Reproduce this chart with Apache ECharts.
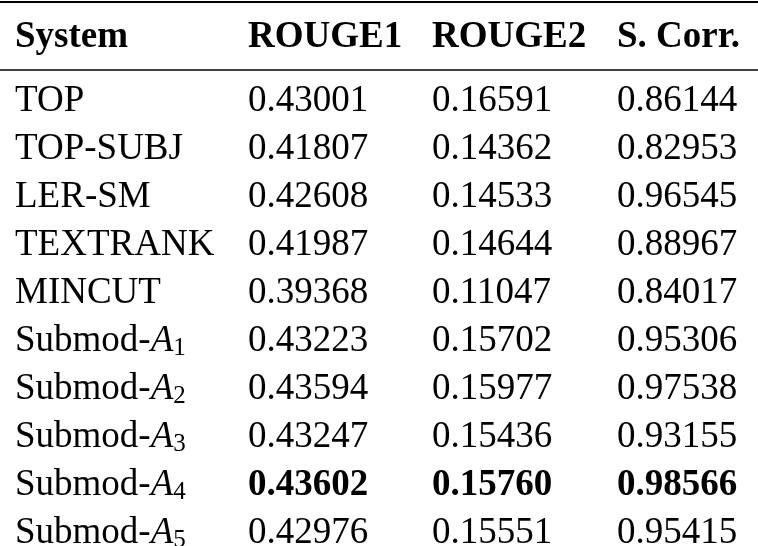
<!DOCTYPE html>
<html><head><meta charset="utf-8">
<script src="https://cdn.jsdelivr.net/npm/echarts@6/dist/echarts.min.js"></script>
<style>html,body{margin:0;padding:0;background:#fff}#c{width:758px;height:546px}</style>
</head><body><div id="c"></div>
<script>
const headers = ['System', 'ROUGE1', 'ROUGE2', 'S. Corr.'];
const systems = ['TOP', 'TOP-SUBJ', 'LER-SM', 'TEXTRANK', 'MINCUT', 'Submod-A1', 'Submod-A2', 'Submod-A3', 'Submod-A4', 'Submod-A5'];
const rouge1 = ['0.43001', '0.41807', '0.42608', '0.41987', '0.39368', '0.43223', '0.43594', '0.43247', '0.43602', '0.42976'];
const rouge2 = ['0.16591', '0.14362', '0.14533', '0.14644', '0.11047', '0.15702', '0.15977', '0.15436', '0.15760', '0.15551'];
const scorr = ['0.86144', '0.82953', '0.96545', '0.88967', '0.84017', '0.95306', '0.97538', '0.93155', '0.98566', '0.95415'];
const boldRow = 8;

const colLeft = [15, 248, 432, 617];
const FONT = '"Liberation Serif", "Times New Roman", serif';
const SIZE = 37;

const cells = [];
headers.forEach((h, c) => cells.push([c, -1.333, h, 'head']));
systems.forEach((s, r) => {
  cells.push([0, r, s, 'sys']);
  cells.push([1, r, rouge1[r], r === boldRow ? 'bold' : 'num']);
  cells.push([2, r, rouge2[r], r === boldRow ? 'bold' : 'num']);
  cells.push([3, r, scorr[r], r === boldRow ? 'bold' : 'num']);
});

const chart = echarts.init(document.getElementById('c'));
chart.setOption({
  animation: false,
  grid: {left: 0, right: 0, top: 0, bottom: 0},
  xAxis: {type: 'value', min: 0, max: 3, show: false},
  yAxis: {type: 'value', inverse: true, min: -101/48, max: 445/48, show: false},
  series: [{
    type: 'custom',
    data: cells,
    renderItem: function (params, api) {
      const col = api.value(0), row = api.value(1);
      const y = api.coord([0, row])[1];
      const raw = cells[params.dataIndex][2];
      const kind = cells[params.dataIndex][3];
      const children = [];
      let text = raw, rich = {};
      const m = /^Submod-A(\d)$/.exec(raw);
      if (m) {
        text = 'Submod-{i|A}{s|' + m[1] + '}';
        rich = {
          i: {fontFamily: FONT, fontSize: SIZE, fontStyle: 'italic', fill: '#000'},
          s: {fontFamily: FONT, fontSize: 25, fill: '#000', padding: [14, 0, 0, 0]}
        };
      }
      children.push({
        type: 'text',
        style: {
          x: colLeft[col], y: y, text: text, rich: rich,
          fill: '#000', font: ((kind === 'head' || kind === 'bold') ? 'bold ' : '') + SIZE + 'px ' + FONT,
          textAlign: 'left', textVerticalAlign: 'middle'
        }
      });
      if (params.dataIndex === 0) {
        const y1 = api.coord([0, -2.063])[1], y2 = api.coord([0, -0.646])[1];
        children.push({type: 'line', shape: {x1: 0, y1: y1, x2: 758, y2: y1}, style: {stroke: '#000', lineWidth: 2}});
        children.push({type: 'line', shape: {x1: 0, y1: y2, x2: 758, y2: y2}, style: {stroke: '#000', lineWidth: 1.3}});
      }
      return {type: 'group', children: children};
    }
  }]
});
</script></body></html>
